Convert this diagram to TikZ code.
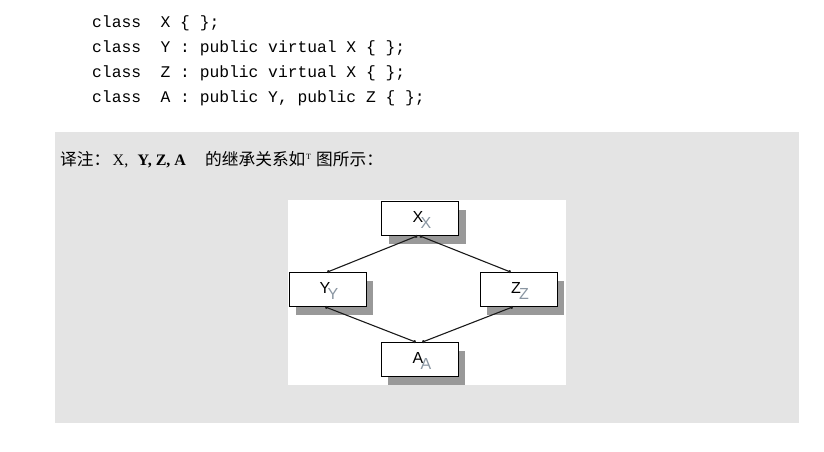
\documentclass[tikz,border=0pt]{standalone}
\usepackage{fontspec}
\newfontfamily\monof{Liberation Mono}
\newfontfamily\cjkf{Noto Sans CJK SC}
\newfontfamily\serf{Liberation Serif}
\newfontfamily\arialf{Liberation Sans}
\usetikzlibrary{shadows,arrows.meta}
\definecolor{panelgray}{HTML}{E4E4E4}
\definecolor{shadowgray}{HTML}{999999}
\definecolor{labelgray}{HTML}{8A96A2}
\definecolor{linedark}{HTML}{1A1A1A}
\tikzset{
  codeline/.style={anchor=base west, inner sep=0pt, font=\monof\fontsize{16.3}{16.3}\selectfont},
  cjktext/.style={anchor=base west, inner sep=0pt, font=\cjkf\fontsize{16.7}{16.7}\selectfont},
  lattext/.style={anchor=base west, inner sep=0pt, font=\serf\fontsize{16}{16}\selectfont},
  clsbox/.style={draw=black, fill=white, line width=1pt, minimum width=77pt, minimum height=34pt, inner sep=0pt,
    drop shadow={shadow xshift=7pt, shadow yshift=-8pt, fill=shadowgray, opacity=1}},
  lbl/.style={inner sep=0pt, font=\arialf\fontsize{16}{16}\selectfont, text=black},
  glbl/.style={inner sep=0pt, font=\arialf\fontsize{16}{16}\selectfont, text=labelgray},
  inh/.style={draw=linedark, line width=1.1pt, {Square[length=2pt,width=2.6pt]}-{Square[length=2pt,width=2.6pt]}}
}
\begin{document}
\begin{tikzpicture}[x=1pt,y=-1pt]
\useasboundingbox (0,0) rectangle (824,451);
\fill[white] (0,0) rectangle (824,451);
% code
\node[codeline] (c1) at (92,27) {class~~X \{ \};};
\node[codeline] (c2) at (92,52) {class~~Y : public virtual X \{ \};};
\node[codeline] (c3) at (92,77) {class~~Z : public virtual X \{ \};};
\node[codeline] (c4) at (92,102) {class~~A : public Y, public Z \{ \};};
% panel
\fill[panelgray] (55,132) rectangle (799,423);
\node[cjktext] (n1) at (60,165) {译注：};
\node[lattext] (n2) at (112.5,165) {X,};
\node[lattext, font=\serf\bfseries\fontsize{16}{16}\selectfont] (n3) at (137.5,165) {Y, Z, A};
\node[cjktext] (n4) at (205,165) {的继承关系如};
\node[anchor=base west, inner sep=0pt, font=\serf\fontsize{8}{8}\selectfont] (n5) at (306,159) {T};
\node[cjktext] (n6) at (316,165) {图所示：};
% diagram background
\fill[white] (288,200) rectangle (566,385);
% boxes
\node[clsbox] (X) at (420,218.5) {};
\node[clsbox] (Y) at (327.5,289.5) {};
\node[clsbox] (Z) at (518.5,289.5) {};
\node[clsbox] (A) at (419.5,359.5) {};
% labels
\node[glbl] (Xg) at (426,223) {X};
\node[lbl]  (Xl) at (418,217) {X};
\node[glbl] (Yg) at (333,294) {Y};
\node[lbl]  (Yl) at (325,288) {Y};
\node[glbl] (Zg) at (524,294) {Z};
\node[lbl]  (Zl) at (516,288) {Z};
\node[glbl] (Ag) at (426,364) {A};
\node[lbl]  (Al) at (418,358) {A};
% connectors
\draw[inh] ([xshift=-3pt]X.south) -- ([xshift=0pt]Y.north);
\draw[inh] ([xshift=0pt]X.south) -- ([xshift=-8pt]Z.north);
\draw[inh] ([xshift=-2pt]Y.south) -- ([xshift=-4pt]A.north);
\draw[inh] ([xshift=-6pt]Z.south) -- ([xshift=3pt]A.north);
\end{tikzpicture}
\end{document}
